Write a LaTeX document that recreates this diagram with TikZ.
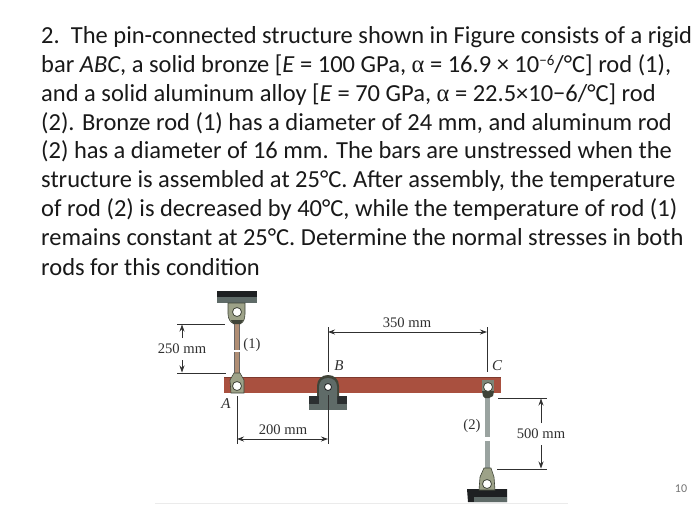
\documentclass[tikz,border=0pt]{standalone}
\usepackage{fontspec}
\setmainfont{Carlito}
\newfontfamily\figfont{Liberation Serif}
\usetikzlibrary{arrows.meta}
\definecolor{barred}{HTML}{A9503F}
\definecolor{bardark}{HTML}{7E3A2E}
\definecolor{plategrey}{HTML}{5F6B68}
\definecolor{plateblack}{HTML}{1E2022}
\definecolor{clevis}{HTML}{9DA288}
\definecolor{clevisdark}{HTML}{3F4438}
\definecolor{bronze}{HTML}{B08E74}
\definecolor{alum}{HTML}{9AA3A0}
\definecolor{dimcol}{HTML}{303030}
\tikzset{
  x=1pt,y=-1pt,
  txt/.style={anchor=base west,inner sep=0pt,font=\fontsize{24.5}{29}\selectfont,text=black!90},
  fig/.style={inner sep=0pt,font=\figfont\fontsize{14.6}{16}\selectfont,text=dimcol},
  figit/.style={inner sep=0pt,font=\figfont\itshape\fontsize{15}{16}\selectfont,text=dimcol},
  dimline/.style={draw=dimcol,line width=0.8pt},
  dimarrow/.style={dimline,-{Stealth[length=7pt,width=5pt]}},
  dimboth/.style={dimline,{Stealth[length=7pt,width=5pt]}-{Stealth[length=7pt,width=5pt]}},
  pinhole/.style={circle,fill=white,draw=clevisdark,line width=0.8pt,minimum size=9pt,inner sep=0pt},
}
\newcommand{\alphaglyph}{{\figfont α}}
\begin{document}
\begin{tikzpicture}
\useasboundingbox (0,0) rectangle (700,507);
\fill[white] (0,0) rectangle (700,507);

% paragraph
\node[txt] (l1) at (41,43) {2.\ \ The pin-connected structure shown in Figure consists of a rigid};
\node[txt] (l2) at (41,72) {bar \textit{ABC}, a solid bronze [\textit{E} = 100 GPa, \alphaglyph{} = 16.9 × 10\raisebox{7pt}{\fontsize{15}{15}\selectfont −6}/°C] rod (1),};
\node[txt] (l3) at (41,101) {and a solid aluminum alloy [\textit{E} = 70 GPa, \alphaglyph{} = 22.5×10−6/°C] rod};
\node[txt] (l4) at (41,130) {(2). Bronze rod (1) has a diameter of 24 mm, and aluminum rod};
\node[txt] (l5) at (41,158) {(2) has a diameter of 16 mm. The bars are unstressed when the};
\node[txt] (l6) at (41,187) {structure is assembled at 25°C. After assembly, the temperature};
\node[txt] (l7) at (41,216) {of rod (2) is decreased by 40°C, while the temperature of rod (1)};
\node[txt] (l8) at (41,245) {remains constant at 25°C. Determine the normal stresses in both};
\node[txt] (l9) at (41,275) {rods for this condition};

% faint baseline and page number
\coordinate (floorL) at (155,503);
\coordinate (floorR) at (568,503);
\draw[black!8,line width=0.8pt] (floorL) -- (floorR);
\node[inner sep=0pt,font=\fontsize{12}{14}\selectfont,text=black!55] (pageno) at (681,489) {10};

% rods
\fill[bronze] (234.5,322) rectangle (239.5,350);
\fill[bronze] (234.5,352) rectangle (239.5,374);
\draw[black!60,line width=0.5pt] (234.5,322) -- (234.5,350) (234.5,352) -- (234.5,374) (239.5,322) -- (239.5,350) (239.5,352) -- (239.5,374);
\fill[alum] (485,396) rectangle (490,437);
\fill[alum] (485,441) rectangle (490,469);

% top support
\fill[plateblack] (217,291) rectangle (257,297);
\fill[plategrey] (217,297) rectangle (257,303);
\fill[clevis,draw=clevisdark,line width=0.6pt] (228,303) -- (245,303) -- (245,314) .. controls (245,319) and (243,323) .. (241,323) -- (233,323) .. controls (231,323) and (228,319) .. (228,314) -- cycle;
\fill[clevisdark] (231,320) -- (243,320) -- (241,324) -- (233,324) -- cycle;
\node[pinhole] (pinT) at (237,312) {};

% bar
\fill[barred] (224,377) rectangle (501,393);
\draw[bardark,line width=0.8pt] (224,377) -- (501,377);

% clevis A
\fill[clevis,draw=clevisdark,line width=0.6pt] (234,373) -- (240,373) -- (244,380) -- (244,393) -- (231,393) -- (230,380) -- cycle;
\node[pinhole] (pinA) at (237,386) {};

% support B
\fill[plateblack!80!plategrey] (309,396) rectangle (347,404);
\fill[plategrey] (309,404) rectangle (347,410);
\fill[clevisdark] (317,396) -- (317,386) .. controls (317,379) and (322,375) .. (328,375) .. controls (334,375) and (339,379) .. (339,386) -- (339,396) -- cycle;
\fill[plategrey] (319,404) -- (319,387) .. controls (319,381) and (323,378) .. (328,378) .. controls (333,378) and (337,381) .. (337,387) -- (337,404) -- cycle;
\node[circle,fill=white,draw=plateblack,line width=0.8pt,minimum size=7pt,inner sep=0pt] (pinB) at (328,387) {};

% clevis C
\fill[plategrey!50!clevis] (482,380) rectangle (494,393);
\fill[clevisdark] (482,391) -- (494,391) -- (493,396) -- (489,398) -- (485,398) -- (483,396) -- cycle;
\node[pinhole] (pinC) at (488,387) {};

% lower support
\fill[plateblack] (467,489) -- (507,489) -- (507,502) -- (468,502) -- cycle;
\fill[plategrey] (474,497) rectangle (507,502);
\fill[clevis,draw=clevisdark,line width=0.6pt] (484,468) -- (491,468) -- (494,477) -- (495,490) -- (479,490) -- (480,477) -- cycle;
\node[pinhole] (pinD) at (487,484) {};

% dimension 250 mm
\coordinate (a1) at (177,324); \coordinate (a2) at (225,324);
\coordinate (a3) at (177,373); \coordinate (a4) at (226,373);
\draw[dimline] (a1) -- (a2);
\draw[dimline] (a3) -- (a4);
\node[fig] (d250) at (182,349) {250 mm};
\coordinate (a5) at (182,338); \coordinate (a6) at (182,360);
\coordinate (a7) at (182,324.5); \coordinate (a8) at (182,372.5);
\draw[dimarrow] (a5) -- (a7);
\draw[dimarrow] (a6) -- (a8);

% dimension 200 mm
\coordinate (b1) at (237,396); \coordinate (b2) at (237,444);
\coordinate (b3) at (328,395); \coordinate (b4) at (328,444);
\draw[dimline] (b1) -- (b2);
\draw[dimline] (b3) -- (b4);
\coordinate (b5) at (237,439); \coordinate (b6) at (328,439);
\draw[dimboth] (b5) -- (b6);
\node[fig] (d200) at (283,430) {200 mm};

% dimension 350 mm
\coordinate (c1) at (328,327); \coordinate (c2) at (328,372);
\coordinate (c3) at (487,327); \coordinate (c4) at (487,372);
\draw[dimline] (c1) -- (c2);
\draw[dimline] (c3) -- (c4);
\coordinate (c5) at (328,332); \coordinate (c6) at (487,332);
\draw[dimboth] (c5) -- (c6);
\node[fig] (d350) at (407,323) {350 mm};

% dimension 500 mm
\coordinate (e1) at (498,398); \coordinate (e2) at (547,398);
\coordinate (e3) at (497,469); \coordinate (e4) at (547,469);
\draw[dimline] (e1) -- (e2);
\draw[dimline] (e3) -- (e4);
\node[fig] (d500) at (541,434) {500 mm};
\coordinate (e5) at (541,423); \coordinate (e6) at (541,445);
\coordinate (e7) at (541,398.5); \coordinate (e8) at (541,468.5);
\draw[dimarrow] (e5) -- (e7);
\draw[dimarrow] (e6) -- (e8);

% labels
\node[fig] (r1) at (252,345) {(1)};
\node[fig] (r2) at (472,426) {(2)};
\node[figit] (lA) at (226,404) {A};
\node[figit] (lB) at (339,366) {B};
\node[figit] (lC) at (497,366) {C};
\end{tikzpicture}
\end{document}
